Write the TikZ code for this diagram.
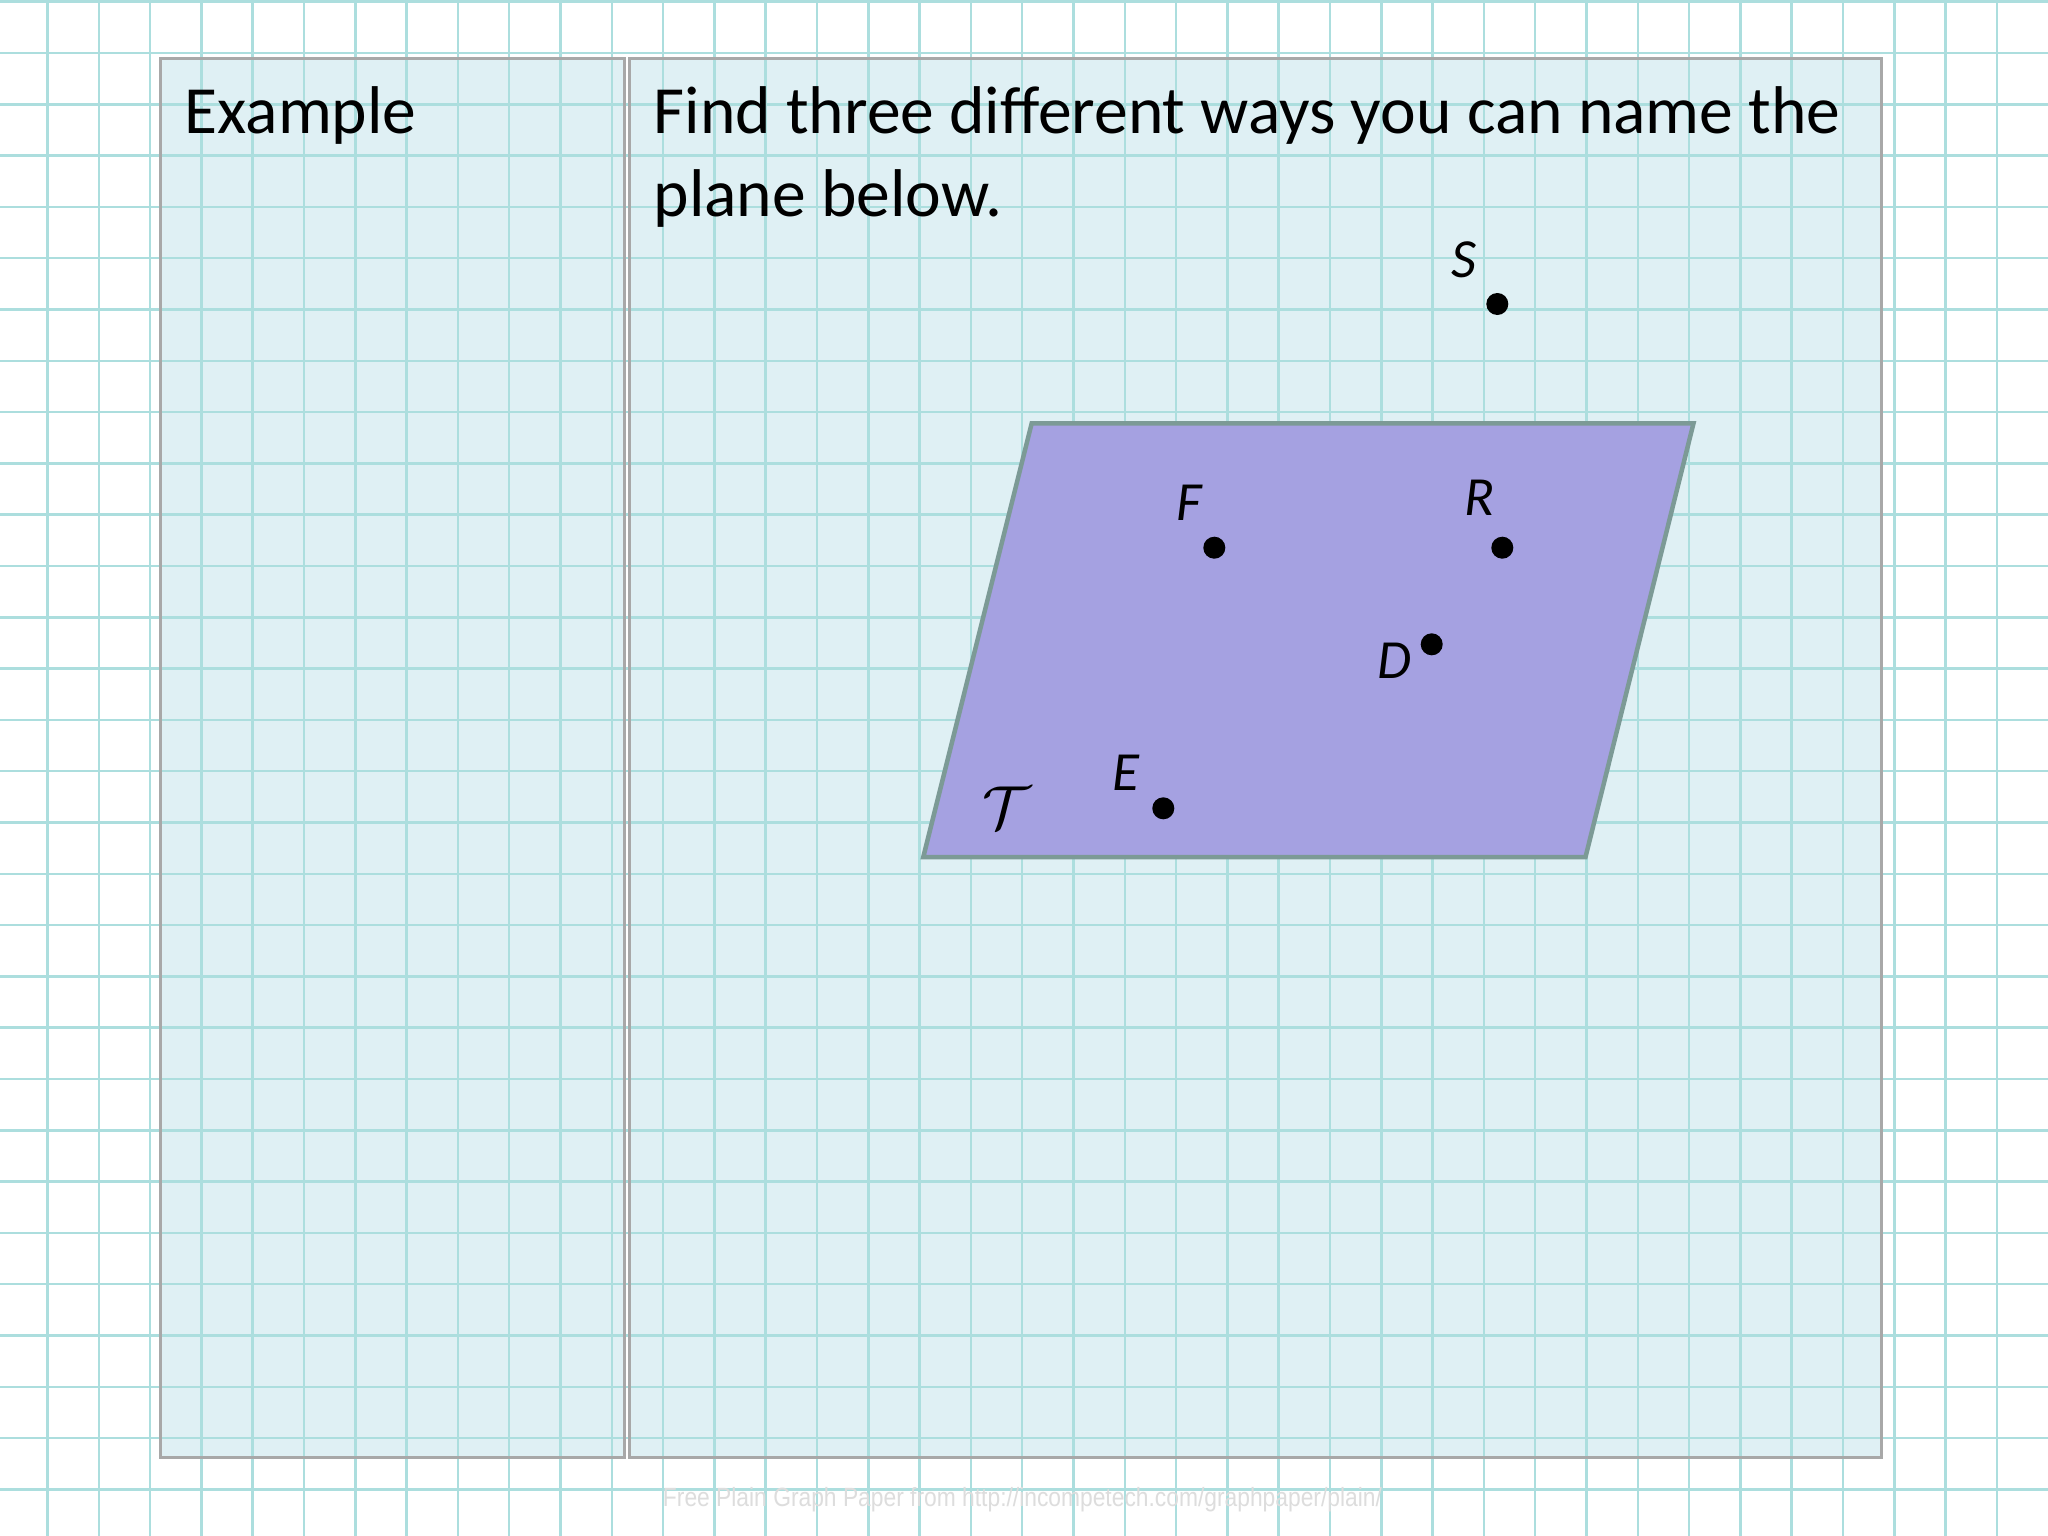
\documentclass[tikz,border=0pt]{standalone}
\usepackage{fontspec}
\setmainfont{Carlito}
\newfontfamily\footfont{Liberation Sans}
\definecolor{gridTeal}{RGB}{172,222,222}
\definecolor{panelBlue}{RGB}{223,240,244}
\definecolor{panelEdge}{RGB}{168,168,168}
\definecolor{planeFill}{RGB}{165,161,225}
\definecolor{planeEdge}{RGB}{124,154,150}
\tikzset{
    gridLine/.style={draw=gridTeal, line width=0.025cm},
    panelBox/.style={draw=panelEdge, line width=0.03cm},
    planeShape/.style={fill=planeFill, draw=planeEdge, line width=0.045cm, line join=miter},
    pointDot/.style={circle, fill=black, inner sep=0pt, minimum size=0.22cm},
    pointLabel/.style={font=\fontsize{15.7}{18}\selectfont\itshape, inner sep=0pt, anchor=base},
    headText/.style={font=\fontsize{19.2}{23}\selectfont, inner sep=0pt, anchor=base west}
}

\begin{document}
\begin{tikzpicture}[x=0.01cm, y=-0.01cm]
		\useasboundingbox (0,0) rectangle (2048,1536);
		\fill[white] (0,0) rectangle (2048,1536);
		% the two panels
		\fill[panelBlue] (160.7,58.8) rectangle (624,1457);
		\fill[panelBlue] (629.5,58.8) rectangle (1881.5,1457);
		% graph paper
		\foreach \i in {0,...,38}
			\draw[gridLine] (47.5+51.3*\i,0) -- (47.5+51.3*\i,1536);
		\foreach \j in {0,...,29}
			\draw[gridLine] (0,1.7+51.3*\j) -- (2048,1.7+51.3*\j);
		\draw[panelBox] (160.7,58.8) rectangle (624,1457);
		\draw[panelBox] (629.5,58.8) rectangle (1881.5,1457);
		% texts
		\node[headText] (example) at (184,133.5) {Example};
		\node[headText] (task1) at (653,133.5) {Find three different ways you can name the};
		\node[headText] (task2) at (653,216) {plane below.};
		% plane T
		\draw[planeShape] (1031.7,423.3) -- (1693.5,423.3) -- (1585.5,857) -- (923.3,857) -- cycle;
		\node[pointLabel, font=\fontsize{17}{20}\selectfont] (planeT) at (1007,828) {$\mathcal{T}$};
		% points
		\node[pointDot] (s) at (1497.3,304) {};
		\node[pointLabel] (sLabel) at (1464,277.3) {S};
		\node[pointDot] (r) at (1502.3,547.7) {};
		\node[pointLabel] (rLabel) at (1479.7,515) {R};
		\node[pointDot] (f) at (1214.3,547.7) {};
		\node[pointLabel] (fLabel) at (1189,520.7) {F};
		\node[pointDot] (d) at (1431.7,644.3) {};
		\node[pointLabel] (dLabel) at (1394,678.3) {D};
		\node[pointDot] (e) at (1163.3,808.3) {};
		\node[pointLabel] (eLabel) at (1126,790.7) {E};
		% footer
		\node[inner sep=0pt, anchor=base, text=gray!27, font=\footfont\fontsize{7.5}{9}\selectfont] (footer) at (1022.5,1506) {\scalebox{0.865}[1]{Free Plain Graph Paper from http://incompetech.com/graphpaper/plain/}};
\end{tikzpicture}
\end{document}
